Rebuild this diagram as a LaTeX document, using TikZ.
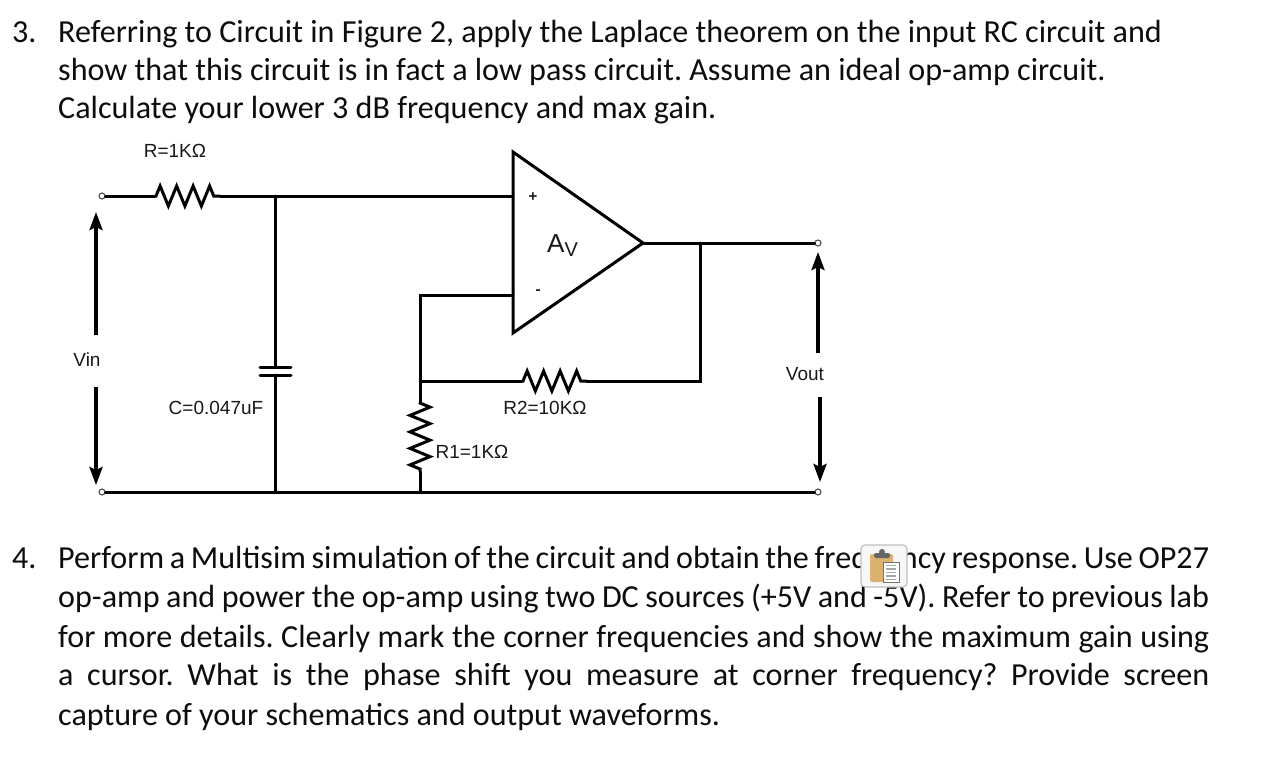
\documentclass[tikz,border=0pt]{standalone}
\usepackage{fontspec}
\setmainfont{Carlito}
\newfontfamily\arialfont{Liberation Sans}
\usetikzlibrary{arrows.meta,decorations.pathmorphing}

\newcommand{\fullline}[1]{\makebox[1151pt][s]{#1}}

\begin{document}
\frenchspacing
\begin{tikzpicture}[x=1pt,y=-1pt,
  wire/.style={line width=3pt,line cap=round},
  res/.style={wire,line cap=butt,decorate,decoration={zigzag,segment length=16.5pt,amplitude=10pt,pre length=1pt,post length=1pt}},
  term/.style={circle,draw=black!70,fill=white,line width=1.1pt,inner sep=0pt,minimum size=6pt},
  volt/.style={line width=3.4pt,-{Stealth[length=18pt,width=13pt,inset=3pt]}},
  para/.style={anchor=base west,inner sep=0pt,font=\fontsize{32.1}{38}\selectfont,text=black!95},
  lab/.style={inner sep=0pt,font=\arialfont\fontsize{19}{22}\selectfont,text=black!90}]

\useasboundingbox (0,0) rectangle (1270,772);
\fill[white] (0,0) rectangle (1270,772);

% question 3
\node[para] (n3) at (12,42) {3.};
\node[para] (q3a) at (58,42) {Referring to Circuit in Figure 2, apply the Laplace theorem on the input RC circuit and};
\node[para] (q3b) at (58,80) {show that this circuit is in fact a low pass circuit. Assume an ideal op-amp circuit.};
\node[para] (q3c) at (58,118) {Calculate your lower 3 dB frequency and max gain.};

% question 4
\node[para] (n4) at (12,568) {4.};
\node[para] (q4a) at (58,568) {\fullline{Perform a Multisim simulation of the circuit and obtain the frequency response. Use OP27}};
\node[para] (q4b) at (58,607) {\fullline{op-amp and power the op-amp using two DC sources (+5V and -5V). Refer to previous lab}};
\node[para] (q4c) at (58,647) {\fullline{for more details. Clearly mark the corner frequencies and show the maximum gain using}};
\node[para] (q4d) at (58,685) {\fullline{a cursor. What is the phase shift you measure at corner frequency? Provide screen}};
\node[para] (q4e) at (58,725) {capture of your schematics and output waveforms.};

% circuit points
\node[term] (Tin) at (102,196) {};
\node[term] (Tgl) at (102,492) {};
\node[term] (Tout) at (818,243) {};
\node[term] (Tgr) at (818,492) {};
\coordinate (Ra) at (155,196);
\coordinate (Rb) at (220,196);
\coordinate (Jc) at (275,196);
\coordinate (Ca) at (275,367);
\coordinate (Cb) at (275,375);
\coordinate (Gc) at (275,492);
\coordinate (Ip) at (513,196);
\coordinate (Im) at (513,295);
\coordinate (Aa) at (513,152);
\coordinate (Ab) at (513,333);
\coordinate (Ac) at (643,243);
\coordinate (Jf) at (700,243);
\coordinate (Jm) at (420,381);
\coordinate (Rf) at (420,402);
\coordinate (Rg) at (420,472);
\coordinate (Gm) at (420,492);
\coordinate (Rc) at (522,381);
\coordinate (Rd) at (587,381);
\coordinate (Je) at (700,381);

% wires
\draw[wire] (Tin) -- (Ra);
\draw[res] (Ra) -- (Rb);
\draw[wire] (Rb) -- (Jc) -- (Ip);
\draw[wire] (Jc) -- (Ca);
\draw[wire] (Cb) -- (Gc);
\draw[wire] (Ca -| 260,0) -- (Ca -| 291,0);
\draw[wire] (Cb -| 260,0) -- (Cb -| 291,0);
\draw[wire] (Tgl) -- (Tgr);
\draw[wire,line join=miter] (Aa) -- (Ac) -- (Ab) -- cycle;
\draw[wire] (Ac) -- (Tout);
\draw[wire] (Im) -- (420,295) -- (Jm) -- (Rf);
\draw[res] (Rf) -- (Rg);
\draw[wire] (Rg) -- (Gm);
\draw[wire] (Jm) -- (Rc);
\draw[res] (Rc) -- (Rd);
\draw[wire] (Rd) -- (Je) -- (Jf);

% voltage arrows
\coordinate (Va) at (96,335);
\coordinate (Vb) at (96,212);
\coordinate (Vc) at (96,387);
\coordinate (Vd) at (96,485);
\coordinate (Ve) at (818,353);
\coordinate (Vf) at (818,252);
\coordinate (Vg) at (820,397);
\coordinate (Vh) at (820,482);
\draw[volt] (Va) -- (Vb);
\draw[volt] (Vc) -- (Vd);
\draw[volt] (Ve) -- (Vf);
\draw[volt] (Vg) -- (Vh);

% labels
\node[lab] (lR) at (175,151) {R=1KΩ};
\node[lab] (lC) at (216,408) {C=0.047uF};
\node[lab] (lRf) at (545,408) {R2=10KΩ};
\node[lab] (lRg) at (472,452) {R1=1KΩ};
\node[lab] (lVin) at (87,360) {Vin};
\node[lab] (lVout) at (805,374) {Vout};
\node[lab] (lp) at (533,197) {\fontsize{15}{15}\selectfont\bfseries +};
\node[lab] (lm) at (538,292) {\fontsize{15}{15}\selectfont\bfseries -};
\node[lab,anchor=base west] (lAv) at (547,252) {\fontsize{26}{26}\selectfont A\raisebox{-4pt}{\fontsize{20}{20}\selectfont V}};

% clipboard icon
\draw[draw=black!25,fill=black!3,line width=1.2pt,rounded corners=4pt] (861,545) rectangle (907,587);
\fill[fill={rgb,255:red,221;green,177;blue,112},rounded corners=2pt] (870,554) rectangle (893,582);
\fill[black!60,rounded corners=2pt] (874,553) rectangle (890,558);
\fill[black!60] (882,552) circle (3pt);
\draw[draw=black!55,fill=white,line width=0.7pt] (883,562) rectangle (899,582);
\foreach \yy in {565.5,569,572.5,576,579.5}
  \draw[black!35,line width=1.3pt] (886,\yy) -- (896,\yy);
\end{tikzpicture}
\end{document}
